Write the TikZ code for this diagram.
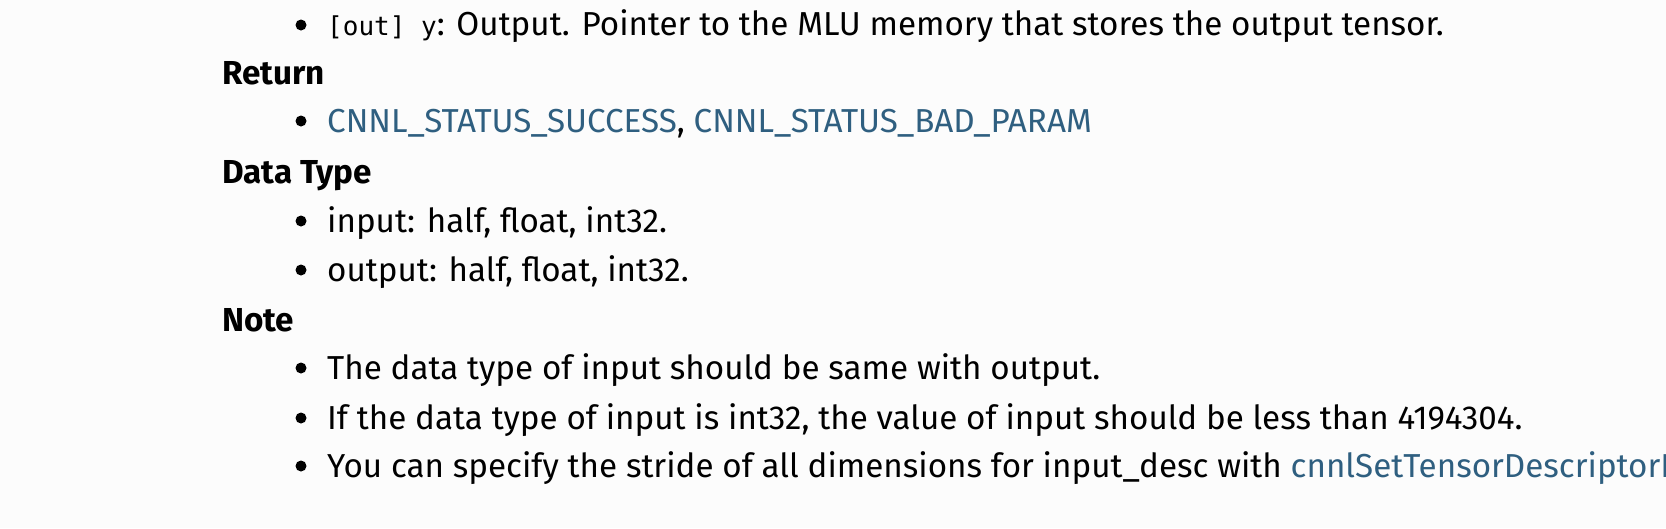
\documentclass[tikz,border=0pt]{standalone}
\usepackage{fontspec}
\setmainfont{Fira Sans}
\setmonofont{DejaVu Sans Mono}
\definecolor{lnk}{HTML}{2F5F80}
\definecolor{bg}{HTML}{FCFCFC}
\begin{document}
\begin{tikzpicture}[x=1pt,y=-1pt,
  txt/.style={anchor=base west,inner sep=0pt,font=\fontsize{33.2}{38}\selectfont},
  hd/.style={txt,font=\fontsize{33.2}{38}\selectfont\bfseries},
  bul/.style={circle,fill=black,inner sep=0pt,minimum size=11pt}]
\fill[bg] (0,0) rectangle (1666,528);
\useasboundingbox (0,0) rectangle (1666,528);
\clip (0,0) rectangle (1666,528);
\node[bul] (b1) at (301,25) {};
\node[txt] (t1) at (327,35) {{\ttfamily\fontsize{26}{30}\selectfont [out] y}: Output. Pointer to the MLU memory that stores the output tensor.};
\node[hd] (h1) at (222,84) {Return};
\node[bul] (b2) at (301,121) {};
\node[txt] (t2) at (327,132) {\textcolor{lnk}{CNNL\_STATUS\_SUCCESS}, \textcolor{lnk}{CNNL\_STATUS\_BAD\_PARAM}};
\node[hd] (h2) at (222,183) {Data Type};
\node[bul] (b3) at (301,221) {};
\node[txt] (t3) at (327,232) {input: half, float, int32.};
\node[bul] (b4) at (301,270) {};
\node[txt] (t4) at (327,281) {output: half, float, int32.};
\node[hd] (h3) at (222,331) {Note};
\node[bul] (b5) at (301,368) {};
\node[txt] (t5) at (327,379) {The data type of input should be same with output.};
\node[bul] (b6) at (301,418) {};
\node[txt] (t6) at (327,429) {If the data type of input is int32, the value of input should be less than 4194304.};
\node[bul] (b7) at (301,466) {};
\node[txt] (t7) at (327,477) {You can specify the stride of all dimensions for input\_desc with \textcolor{lnk}{cnnlSetTensorDescriptorEx}.};
\end{tikzpicture}
\end{document}
